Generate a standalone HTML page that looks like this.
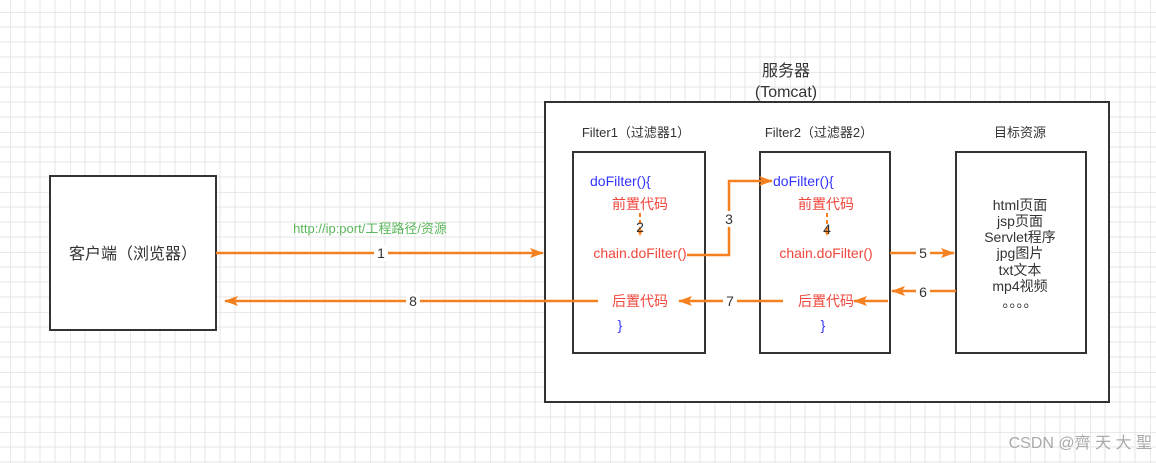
<!DOCTYPE html>
<html><head><meta charset="utf-8"><style>
html,body{margin:0;padding:0;background:#fff;}
svg{display:block;}
text{font-family:"Liberation Sans","Noto Sans CJK SC",sans-serif;}
</style></head><body>
<svg width="1156" height="463" viewBox="0 0 1156 463" xmlns="http://www.w3.org/2000/svg">
<defs>
<pattern id="g" x="10" y="12" width="60" height="60" patternUnits="userSpaceOnUse">
<path d="M0 0V60M15 0V60M30 0V60M45 0V60M0 0H60M0 15H60M0 30H60M0 45H60" stroke="#e4e4e4" stroke-width="1" fill="none"/>
<path d="M0 0V60M0 0H60" stroke="#d6d6d6" stroke-width="1" fill="none"/>
</pattern>
<marker id="a" markerWidth="14" markerHeight="10" refX="13" refY="5" orient="auto" markerUnits="userSpaceOnUse"><path d="M0 0L14 5L0 10L3 5Z" fill="#f5801f"/></marker>
</defs>
<rect width="1156" height="463" fill="url(#g)"/>
<g fill="#fff" stroke="#333" stroke-width="2">
<rect x="50" y="176" width="166" height="154"/>
<rect x="545" y="102" width="564" height="300"/>
<rect x="573" y="152" width="132" height="201"/>
<rect x="760" y="152" width="130" height="201"/>
<rect x="956" y="152" width="130" height="201"/>
</g>
<g font-size="14" fill="#333" text-anchor="middle">
<text x="786" y="76" font-size="16">服务器</text>
<text x="786" y="97" font-size="16">(Tomcat)</text>
<text x="133" y="259" font-size="16">客户端（浏览器）</text>
<text x="636" y="137" font-size="13">Filter1（过滤器1）</text>
<text x="819" y="137" font-size="13">Filter2（过滤器2）</text>
<text x="1020" y="137" font-size="13">目标资源</text>
<g font-size="14">
<text x="1020" y="210">html页面</text>
<text x="1020" y="226">jsp页面</text>
<text x="1020" y="242">Servlet程序</text>
<text x="1020" y="258">jpg图片</text>
<text x="1020" y="275">txt文本</text>
<text x="1020" y="291">mp4视频</text>
<text x="1020" y="307">。。。。</text>
</g>
</g>
<text x="370" y="233" font-size="13" fill="#5cb85c" text-anchor="middle">http://ip:port/工程路径/资源</text>
<g stroke="#f5801f" stroke-width="2.5" fill="none">
<path d="M216 253H543" marker-end="url(#a)"/>
<path d="M598 301H225" marker-end="url(#a)"/>
<path d="M687 255H729V181H772" marker-end="url(#a)"/>
<path d="M890 253H954" marker-end="url(#a)"/>
<path d="M956 291H892" marker-end="url(#a)"/>
<path d="M888 301H854" marker-end="url(#a)"/>
<path d="M783 301H679" marker-end="url(#a)"/>
<path d="M640 213V231" stroke-dasharray="4 3" stroke-width="2"/>
<path d="M827 213V231" stroke-dasharray="4 3" stroke-width="2"/>
</g>
<g fill="#f5801f"><path d="M637 230L640 236L643 230Z"/><path d="M824 230L827 236L830 230Z"/></g>
<g font-size="14" text-anchor="middle" fill="#333">
<rect x="374" y="245" width="14" height="16" fill="#fff"/><text x="381" y="258">1</text>
<rect x="406" y="293" width="14" height="16" fill="#fff"/><text x="413" y="306">8</text>
<rect x="722" y="211" width="14" height="16" fill="#fff"/><text x="729" y="224">3</text>
<rect x="916" y="245" width="14" height="16" fill="#fff"/><text x="923" y="258">5</text>
<rect x="916" y="283" width="14" height="16" fill="#fff"/><text x="923" y="297">6</text>
<rect x="723" y="293" width="14" height="16" fill="#fff"/><text x="730" y="306">7</text>
<text x="640" y="232">2</text>
<text x="827" y="234">4</text>
</g>
<g font-size="14" text-anchor="middle">
<text x="590" y="186" fill="#3333ff" text-anchor="start">doFilter(){</text>
<text x="640" y="209" fill="#f0463c">前置代码</text>
<text x="640" y="258" fill="#f0463c">chain.doFilter()</text>
<text x="640" y="306" fill="#f0463c">后置代码</text>
<text x="620" y="330" fill="#3333ff">}</text>
<text x="773" y="186" fill="#3333ff" text-anchor="start">doFilter(){</text>
<text x="826" y="209" fill="#f0463c">前置代码</text>
<text x="826" y="258" fill="#f0463c">chain.doFilter()</text>
<text x="826" y="306" fill="#f0463c">后置代码</text>
<text x="823" y="330" fill="#3333ff">}</text>
</g>
<text x="1152" y="448" font-size="16" fill="#aaa" text-anchor="end">CSDN @齊 天 大 聖</text>
</svg>
</body></html>
